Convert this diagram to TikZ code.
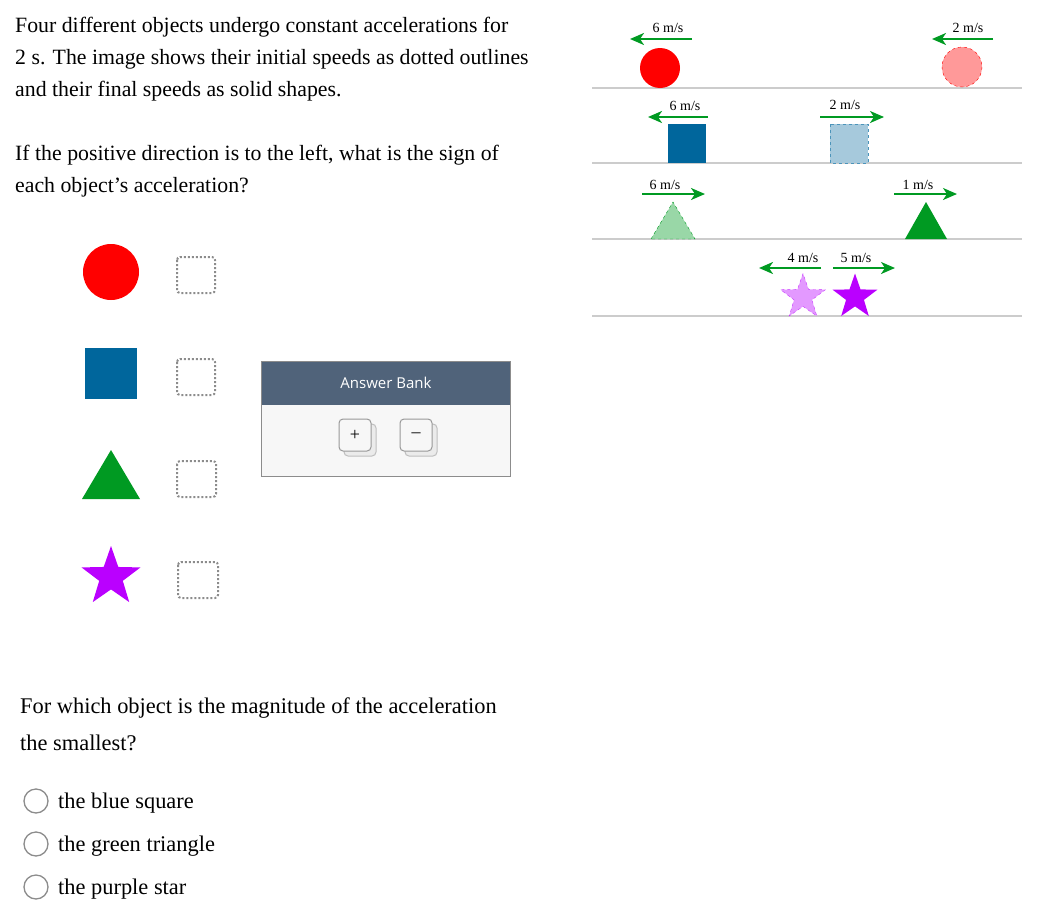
\documentclass[tikz,border=0pt]{standalone}
\usepackage{fontspec}
\setmainfont{Liberation Serif}
\newfontfamily\uisans{Open Sans}
\usetikzlibrary{shapes.geometric,arrows.meta}
\definecolor{grn}{HTML}{009A22}
\definecolor{bluesq}{HTML}{00669C}
\definecolor{starc}{HTML}{BA00FF}
\definecolor{hdr}{HTML}{50637A}
\tikzset{
 txt/.style={anchor=base west,inner sep=0pt,font=\fontsize{21.8}{24}\selectfont},
 txtb/.style={anchor=base west,inner sep=0pt,font=\fontsize{22.4}{24}\selectfont},
 lbl/.style={inner sep=0pt,font=\fontsize{14}{16}\selectfont},
 vel/.style={draw=grn,line width=2.2pt,arrows={-Stealth[length=14pt,width=12pt,inset=4pt]}},
 floor/.style={draw=black!20,line width=2pt},
 dropbox/.style={draw=black!45,dotted,line width=2pt,rounded corners=3pt},
 radio/.style={circle,draw=black!45,line width=1.3pt,minimum size=24pt,inner sep=0pt},
 btn/.style={draw=black!40,fill=black!3,rounded corners=4pt,line width=1pt,minimum size=32pt,inner sep=0pt},
 starshape/.style={star,star points=5,star point ratio=2.5,inner sep=0pt}
}
\begin{document}
\begin{tikzpicture}[x=1pt,y=-1pt]
\useasboundingbox (0,0) rectangle (1041,902);
% text
\node[txt] (t1) at (15,32) {Four different objects undergo constant accelerations for};
\node[txt] (t2) at (15,64) {2 s. The image shows their initial speeds as dotted outlines};
\node[txt] (t3) at (15,96) {and their final speeds as solid shapes.};
\node[txt] (t4) at (15,160) {If the positive direction is to the left, what is the sign of};
\node[txt] (t5) at (15,192) {each object's acceleration?};
\node[txtb] (t6) at (20,713) {For which object is the magnitude of the acceleration};
\node[txtb] (t7) at (20,750) {the smallest?};
\node[radio] (r1) at (36,801) {}; \node[txtb] (o1) at (58,808) {the blue square};
\node[radio] (r2) at (36,844) {}; \node[txtb] (o2) at (58,851) {the green triangle};
\node[radio] (r3) at (36,887) {}; \node[txtb] (o3) at (58,894) {the purple star};
% left shapes
\fill[red] (111,272) circle (28);
\fill[bluesq] (85,348) rectangle (137,399);
\fill[grn] (82,499) -- (111,450) -- (140,499) -- cycle;
\node[starshape,fill=starc,minimum size=62pt] (s0) at (111,577) {};
\draw[dropbox] (177,257) rectangle (215,293);
\draw[dropbox] (177,359) rectangle (215,395);
\draw[dropbox] (177,461) rectangle (216,497);
\draw[dropbox] (178,562) rectangle (218,598);
% answer bank
\draw[black!45,fill=black!3,line width=1pt] (261,361) rectangle (510,476);
\fill[hdr] (261.5,361.5) rectangle (509.5,405);
\node[text=white,font=\uisans\fontsize{15}{18}\selectfont] (ab) at (386,383) {Answer Bank};
\node[btn,fill=black!8,draw=black!25] at (360,440) {};
\node[btn] (bp) at (355,435) {\fontsize{18}{20}\selectfont +};
\node[btn,fill=black!8,draw=black!25] at (421,440) {};
\node[btn] (bm) at (416,435) {\fontsize{18}{20}\selectfont --};
% right diagram
\foreach \y in {88,163,239,316} \draw[floor] (592,\y) -- (1022,\y);
% row1
\fill[red] (660,68) circle (20);
\draw[red,dashed,fill=red!40] (962,67) circle (20);
\coordinate (a1s) at (692,39); \coordinate (a1e) at (630,39);
\draw[vel] (a1s) -- (a1e); \node[lbl] at (668,28) {6 m/s};
\coordinate (a2s) at (993,39); \coordinate (a2e) at (932,39);
\draw[vel] (a2s) -- (a2e); \node[lbl] at (968,28) {2 m/s};
% row2
\fill[bluesq] (668,124) rectangle (706,163);
\draw[bluesq!70,dashed,fill=bluesq!35] (830,124) rectangle (868,163);
\coordinate (b1s) at (708,117); \coordinate (b1e) at (648,117);
\draw[vel] (b1s) -- (b1e); \node[lbl] at (685,106) {6 m/s};
\coordinate (b2s) at (820,117); \coordinate (b2e) at (884,117);
\draw[vel] (b2s) -- (b2e); \node[lbl] at (845,105) {2 m/s};
% row3
\draw[grn,dashed,fill=grn!40] (651,239) -- (673,202) -- (695,239) -- cycle;
\fill[grn] (905,239) -- (926,202) -- (947,239) -- cycle;
\coordinate (c1s) at (642,194); \coordinate (c1e) at (705,194);
\draw[vel] (c1s) -- (c1e); \node[lbl] at (665,185) {6 m/s};
\coordinate (c2s) at (894,194); \coordinate (c2e) at (957,194);
\draw[vel] (c2s) -- (c2e); \node[lbl] at (918,185) {1 m/s};
% row4
\node[starshape,draw=starc!80,dashed,fill=starc!40,minimum size=47pt] (s1) at (803,297) {};
\node[starshape,fill=starc,minimum size=47pt] (s2) at (855,297) {};
\coordinate (d1s) at (821,268); \coordinate (d1e) at (759,268);
\draw[vel] (d1s) -- (d1e); \node[lbl] at (803,258) {4 m/s};
\coordinate (d2s) at (833,268); \coordinate (d2e) at (895,268);
\draw[vel] (d2s) -- (d2e); \node[lbl] at (856,258) {5 m/s};
\end{tikzpicture}
\end{document}
